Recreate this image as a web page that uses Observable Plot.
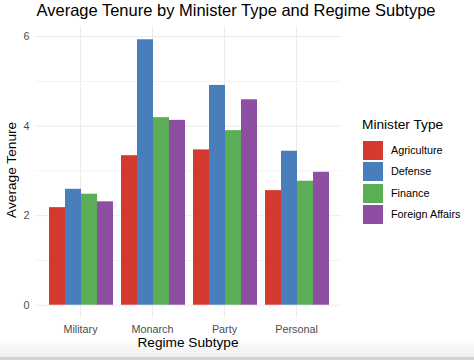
<!DOCTYPE html>
<html>
<head>
<meta charset="utf-8">
<script src="https://cdn.jsdelivr.net/npm/d3@7"></script>
<script src="https://cdn.jsdelivr.net/npm/@observablehq/plot@0.6"></script>
<style>
  html, body { margin: 0; padding: 0; width: 474px; height: 360px; overflow: hidden; }
  body {
    background: linear-gradient(to bottom, #ffffff 0px, #ffffff 338px, #efefef 357px, #d2d2d2 357px, #d2d2d2 360px);
    font-family: "Liberation Sans", Arial, Helvetica, sans-serif;
  }
  #wrap { position: relative; width: 474px; height: 360px; }
  #wrap > svg, #wrap > .layer { position: absolute; left: 0; top: 0; }
  .txt { position: absolute; white-space: nowrap; color: #000; }
</style>
</head>
<body>
<div id="wrap"></div>
<script>
// ---- data ----
const regimes = ["Military", "Monarch", "Party", "Personal"];
const types = ["Agriculture", "Defense", "Finance", "Foreign Affairs"];
const agriculture = [2.18, 3.34, 3.47, 2.56];
const defense = [2.59, 5.93, 4.91, 3.44];
const finance = [2.48, 4.19, 3.90, 2.77];
const foreignAffairs = [2.31, 4.13, 4.59, 2.97];
const yTicks = [0, 2, 4, 6];
const yMinor = [1, 3, 5];
const colors = ["#d3392e", "#477ebb", "#5cae56", "#8e4fa2"];
const titleText = "Average Tenure by Minister Type and Regime Subtype";
const xTitle = "Regime Subtype";
const yTitle = "Average Tenure";
const legendTitle = "Minister Type";

const series = [agriculture, defense, finance, foreignAffairs];
const rows = [];
regimes.forEach((r, i) => types.forEach((t, j) => rows.push({regime: r, type: t, value: series[j][i]})));

const ymax = d3.max(rows, d => d.value);
const pad = 0.05 * ymax;
const yDomain = [-pad, ymax + pad];

const W = 474, H = 360;
const margins = {marginLeft: 35, marginRight: 133, marginTop: 26, marginBottom: 42};
const wrap = document.getElementById("wrap");

// background: grid + axes
const bg = Plot.plot({
  width: W, height: H, ...margins,
  style: {background: "transparent", fontSize: "10.8px", fontFamily: "'Liberation Sans', Arial, sans-serif", color: "#4d4d4d"},
  x: {type: "point", domain: regimes, padding: 0.6, tickSize: 0, tickPadding: 7, label: null},
  y: {domain: yDomain, ticks: yTicks, tickFormat: d => String(d), tickSize: 0, tickPadding: 6, label: null},
  marks: [
    Plot.ruleY(yMinor, {stroke: "#f3f3f3", strokeWidth: 1}),
    Plot.ruleY(yTicks, {stroke: "#ebebeb", strokeWidth: 1}),
    Plot.ruleX(regimes, {x: d => d, stroke: "#ebebeb", strokeWidth: 1})
  ]
});
wrap.appendChild(bg);

// foreground: dodged bars via fx facets
const fg = Plot.plot({
  width: W, height: H, ...margins,
  style: {background: "transparent"},
  fx: {domain: regimes, paddingInner: 0.1, paddingOuter: 0.15, axis: null, label: null},
  x: {domain: types, padding: 0, axis: null},
  y: {domain: yDomain, axis: null},
  color: {domain: types, range: colors},
  marks: [
    Plot.barY(rows, {fx: "regime", x: "type", y: "value", fill: "type"})
  ]
});
wrap.appendChild(fg);

// text overlays
function addText(str, css) {
  const d = document.createElement("div");
  d.className = "txt";
  d.textContent = str;
  Object.assign(d.style, css);
  wrap.appendChild(d);
  return d;
}
addText(titleText, {left: "0px", width: "472px", textAlign: "center", top: "2px", fontSize: "16.5px", lineHeight: "16.5px"});
addText(xTitle, {left: "35px", width: "306px", textAlign: "center", top: "336.4px", fontSize: "13.7px", lineHeight: "13.7px"});
addText(yTitle, {left: (12 - 100) + "px", width: "200px", textAlign: "center", top: (170 - 6.85) + "px", fontSize: "13.7px", lineHeight: "13.7px", transform: "rotate(-90deg)", transformOrigin: "50% 50%"});
addText(legendTitle, {left: "362px", top: "118.4px", fontSize: "13.7px", lineHeight: "13.7px"});
types.forEach((t, j) => {
  const top = 140.7 + j * 21.4;
  const sw = document.createElement("div");
  Object.assign(sw.style, {position: "absolute", left: "362.7px", top: top + "px", width: "20px", height: "19px", background: colors[j]});
  wrap.appendChild(sw);
  addText(t, {left: "391px", top: top + "px", fontSize: "10.8px", lineHeight: "19px"});
});
</script>
</body>
</html>
